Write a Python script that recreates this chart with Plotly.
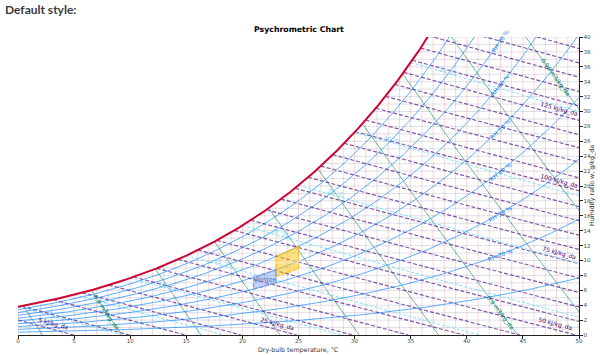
import numpy as np
import plotly.graph_objects as go

# ---------------- data ----------------
P_KPA = 101.325
T_RANGE = [0, 50]
W_RANGE = [0, 40]
dry_temps = list(range(0, 51, 1))
humidities = list(range(1, 41, 1))
rh_curves = [10, 20, 30, 40, 50, 60, 70, 80, 90]
rh_labels = [20, 30, 40, 50, 60, 70]
rh_label_temp = 43.0
enthalpies = list(range(5, 155, 5))
h_labels = [5, 25, 50, 75, 100, 125]
volumes = [0.78, 0.80, 0.82, 0.84, 0.86, 0.88, 0.90, 0.92, 0.94, 0.96]
v_labels = [0.80, 0.90, 0.96]
v_label_w = [3.1, 3.0, 34.6]
wet_temps = [0, 5, 10, 15, 20, 25, 30, 35]
wet_labels = [0, 5, 10, 15, 20, 25, 30, 35]
zone_names = ["Summer", "Winter"]
zone_temps = [[23, 25], [21, 23]]
zone_rh = [[45, 60], [40, 50]]
x_ticks = list(range(0, 51, 5))
y_ticks = list(range(0, 41, 2))

# ---------------- psychrometrics ----------------
def psat(T):
    Tk = np.asarray(T, float) + 273.15
    C8, C9, C10, C11, C12, C13 = (-5.8002206e3, 1.3914993, -4.8640239e-2,
                                  4.1764768e-5, -1.4452093e-8, 6.5459673)
    return np.exp(C8 / Tk + C9 + C10 * Tk + C11 * Tk**2 + C12 * Tk**3 + C13 * np.log(Tk)) / 1000.0

def w_from_pv(pv):
    return 621.945 * pv / (P_KPA - pv)

def w_sat(T):
    return w_from_pv(psat(T))

def w_rh(T, rh):
    return w_from_pv(rh / 100.0 * psat(T))

def w_h(T, h):
    return 1000.0 * (h - 1.006 * T) / (2501.0 + 1.86 * T)

def w_v(T, v):
    return 1000.0 * (v * P_KPA / (0.287042 * (T + 273.15)) - 1.0) / 1.607858

def w_wb(T, twb):
    ws = w_sat(twb) / 1000.0
    return 1000.0 * ((2501.0 - 2.326 * twb) * ws - 1.006 * (T - twb)) / (2501.0 + 1.86 * T - 4.186 * twb)

def bisect(f, a, b, n=60):
    fa = f(a)
    for _ in range(n):
        m = 0.5 * (a + b)
        fm = f(m)
        if (fm > 0) == (fa > 0):
            a, fa = m, fm
        else:
            b = m
    return 0.5 * (a + b)

def sat_start(fun):
    g = lambda T: fun(T) - w_sat(T)
    if g(0.0) < 0:
        return 0.0
    return bisect(g, 0.0, 70.0)

# layout geometry (pixels)
W, H = 600, 355
ML, MR, MT, MB = 18, 21, 37, 20
PX_T = (W - ML - MR) / 50.0
PX_W = (H - MT - MB) / 40.0

def angle_of(fun, T):
    d = 0.05
    s = (fun(T + d) - fun(T - d)) / (2 * d) * PX_W / PX_T
    return np.degrees(np.arctan(s))

FONT = "DejaVu Sans"
fig = go.Figure()
annotations = []

def add_lines(segs, color, width, dash="solid"):
    xs, ys = [], []
    for x, y in segs:
        xs += list(x) + [None]
        ys += list(y) + [None]
    fig.add_trace(go.Scatter(x=xs, y=ys, mode="lines", hoverinfo="skip",
                             line=dict(color=color, width=width, dash=dash),
                             showlegend=False))

def add_label(text, T, fun, color, size=6, shift=0.0):
    a = angle_of(fun, T)
    w = float(fun(T))
    r = np.radians(a)
    annotations.append(dict(x=T, y=w, xref="x", yref="y", text=text, showarrow=False,
                            textangle=-a, font=dict(family=FONT, size=size, color=color),
                            xshift=-shift * np.sin(r), yshift=shift * np.cos(r)))

# dry-bulb verticals
segs = []
for T in dry_temps:
    segs.append(([T, T], [0, float(w_sat(T))]))
add_lines(segs, "rgba(218,37,29,0.25)", 0.7)

# humidity horizontals
segs = []
for w in humidities:
    td = 0.0 if w < w_sat(0.0) else bisect(lambda T: w_sat(T) - w, 0.0, 70.0)
    segs.append(([td, T_RANGE[1]], [w, w]))
add_lines(segs, "rgba(0,32,96,0.2)", 0.7)

# constant volume
segs = []
for v in volumes:
    f = lambda T, v=v: w_v(T, v)
    t0 = sat_start(f)
    t1 = v * P_KPA / 0.287042 - 273.15
    Ts = np.linspace(t0, t1, 60)
    segs.append((Ts, f(Ts)))
add_lines(segs, "rgba(0,128,86,0.8)", 0.7)

# constant enthalpy
segs = []
for h in enthalpies:
    f = lambda T, h=h: w_h(T, h)
    t0 = sat_start(f)
    t1 = h / 1.006
    Ts = np.linspace(t0, t1, 60)
    segs.append((Ts, f(Ts)))
add_lines(segs, "rgba(64,0,128,0.65)", 1.2, "4px,2px")

# constant wet bulb
segs = []
for tw in wet_temps:
    f = lambda T, tw=tw: w_wb(T, tw)
    t1 = tw + (2501.0 - 2.326 * tw) * w_sat(tw) / 1000.0 / 1.006
    Ts = np.linspace(tw, t1, 60)
    segs.append((Ts, f(Ts)))
add_lines(segs, "rgb(127,223,255)", 1.0, "3px,2px")

# constant RH
segs = []
Ts = np.linspace(0, 50, 201)
for rh in rh_curves:
    segs.append((Ts, w_rh(Ts, rh)))
add_lines(segs, "rgba(0,127,255,0.7)", 0.9)

# zones
zone_style = {
    "Summer": dict(edge="rgba(255,191,0,0.8)", fill="rgba(255,191,0,0.5)", txt="rgba(255,235,190,1)"),
    "Winter": dict(edge="rgba(127,159,204,1)", fill="rgba(127,159,255,0.45)", txt="rgba(90,110,170,1)"),
}
for name, (ta, tb), (ra, rb) in zip(zone_names, zone_temps, zone_rh):
    tt = np.linspace(ta, tb, 20)
    xs = list(tt) + list(tt[::-1]) + [ta]
    ys = list(w_rh(tt, ra)) + list(w_rh(tt[::-1], rb)) + [float(w_rh(ta, ra))]
    st = zone_style[name]
    fig.add_trace(go.Scatter(x=xs, y=ys, mode="lines", fill="toself", fillcolor=st["fill"],
                             line=dict(color=st["edge"], width=1.5, dash="4px,2px"),
                             hoverinfo="skip", showlegend=False))
    tm = 0.5 * (ta + tb)
    wm = 0.5 * (float(w_rh(tm, ra)) + float(w_rh(tm, rb)))
    annotations.append(dict(x=tm, y=wm, xref="x", yref="y", text=name, showarrow=False,
                            font=dict(family=FONT, size=6.5, color=st["txt"])))

# saturation
Ts = np.linspace(0, 40, 401)
fig.add_trace(go.Scatter(x=Ts, y=w_sat(Ts), mode="lines", hoverinfo="skip",
                         line=dict(color="rgb(204,5,51)", width=2), showlegend=False))

# labels
for rh in rh_labels:
    add_label("RH %d %%" % rh, rh_label_temp, lambda T, rh=rh: w_rh(T, rh), "rgba(0,110,230,0.9)")
for h in h_labels:
    f = lambda T, h=h: w_h(T, h)
    tend = min(h / 1.006, T_RANGE[1])
    add_label("%d kJ/kg_da" % h, tend - 1.9, f, "rgb(64,0,128)", shift=6)
for v, wl in zip(v_labels, v_label_w):
    f = lambda T, v=v: w_v(T, v)
    tl = bisect(lambda T: f(T) - wl, -20.0, 80.0)
    add_label("%g m3/kg_da" % v, tl, f, "rgb(0,128,86)")
for tw in wet_labels:
    f = lambda T, tw=tw: w_wb(T, tw)
    add_label("%d °C" % tw, tw + 3.2, f, "rgb(127,210,245)", shift=3)

# titles and page heading
annotations.append(dict(x=0.5, y=1, xref="paper", yref="paper", yanchor="bottom", yshift=1,
                        text="<b>Psychrometric Chart</b>", showarrow=False,
                        font=dict(family=FONT, size=7.8, color="black")))
annotations.append(dict(x=0.5, y=0, xref="paper", yref="paper", yanchor="middle", yshift=-14.5,
                        text="Dry-bulb temperature, °C", showarrow=False,
                        font=dict(family=FONT, size=6.3, color="#333")))
annotations.append(dict(x=1, y=0.5, xref="paper", yref="paper", xanchor="center", xshift=13,
                        text="Humidity ratio w, g/kg_da", showarrow=False, textangle=-90,
                        font=dict(family=FONT, size=6.3, color="#333")))
annotations.append(dict(x=0, y=1, xref="paper", yref="paper", xanchor="left", yanchor="top",
                        xshift=-15, yshift=37, text="Default style:", showarrow=False,
                        font=dict(family="Lato", size=12, color="#3a3a3a", weight=700)))

fig.update_layout(
    width=W, height=H, margin=dict(l=ML, r=MR, t=MT, b=MB, autoexpand=False),
    paper_bgcolor="white", plot_bgcolor="white",
    annotations=annotations,
    xaxis=dict(range=T_RANGE, tickvals=x_ticks, showgrid=False, zeroline=False, automargin=False,
               showline=True, linecolor="#222", linewidth=1, ticks="outside", ticklen=2.5,
               ticklabelstandoff=-2,
               tickcolor="#222", tickfont=dict(family=FONT, size=5.5, color="#444")),
    yaxis=dict(range=W_RANGE, tickvals=y_ticks, side="right", showgrid=False, zeroline=False,
               automargin=False,
               showline=True, linecolor="#222", linewidth=1, ticks="outside", ticklen=2.5,
               tickcolor="#222", tickfont=dict(family=FONT, size=5.5, color="#444")),
)
fig.write_html("out.html")
